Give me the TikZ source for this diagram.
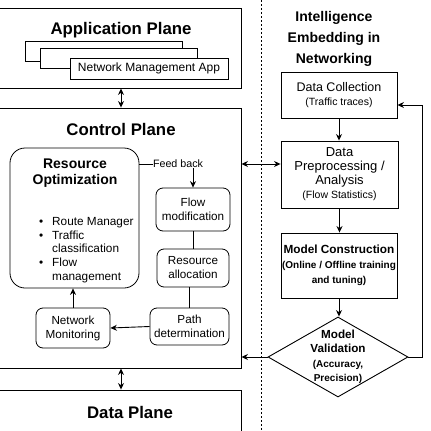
\documentclass[tikz,border=0pt]{standalone}
\usepackage{fontspec}
\setmainfont{Liberation Sans}
\usetikzlibrary{arrows.meta,shapes.geometric}

\tikzset{
  plane/.style={draw, line width=0.9pt, inner sep=0pt},
  ptitle/.style={font=\bfseries\fontsize{16.8}{20}\selectfont},
  appbox/.style={draw, fill=white, line width=0.8pt, inner sep=0pt},
  rbox/.style={draw, rounded corners=7pt, line width=0.8pt, inner sep=0pt, align=center,
    font=\fontsize{11.7}{14}\selectfont},
  sbox/.style={draw, line width=0.9pt, inner sep=0pt, align=center},
  arr/.style={-{Stealth[length=6.5pt,width=6pt]}, line width=0.9pt},
  dbl/.style={{Stealth[length=6.5pt,width=6pt]}-{Stealth[length=6.5pt,width=6pt]}, line width=0.9pt},
}
\newcommand{\bul}{\makebox[13pt][l]{\textbullet}}
\newcommand{\nobul}{\hspace*{13pt}}

\begin{document}
\begin{tikzpicture}[x=1pt,y=-1pt]
  \useasboundingbox (0,0) rectangle (431,431);
  \fill[white] (0,0) rectangle (431,431);

  % planes
  \node[plane, minimum width=251, minimum height=80] (app) at (115.5,48) {};
  \node[plane, minimum width=251, minimum height=260] (ctrl) at (115.5,238) {};
  \node[plane, minimum width=251, minimum height=60] (data) at (115.5,420) {};
  \node[ptitle] (apptitle) at (121,30) {Application Plane};
  \node[ptitle] (ctrltitle) at (121,129) {Control Plane};
  \node[ptitle] (datatitle) at (130,412) {Data Plane};

  % stacked apps
  \node[appbox, minimum width=157, minimum height=20] (app1) at (103.5,51) {};
  \node[appbox, minimum width=157, minimum height=20] (app2) at (118.5,58) {};
  \node[appbox, minimum width=158, minimum height=21, font=\fontsize{12}{14}\selectfont] (app3) at (149,68.5) {Network Management App};

  \draw[dbl] (app.south -| apptitle) -- (ctrl.north -| apptitle);
  \draw[dbl] (ctrl.south -| apptitle) -- (data.north -| apptitle);

  % control plane blocks
  \node[draw, rounded corners=15pt, line width=0.8pt, minimum width=129, minimum height=140] (resopt) at (74.5,218) {};
  \node[font=\bfseries\fontsize{14}{16}\selectfont, align=center] (restitle) at (75,173) {Resource\\Optimization};
  \node[anchor=west, inner sep=0pt, align=left, font=\fontsize{11.8}{13.8}\selectfont] (reslist) at (39,250)
    {\bul Route Manager\\ \bul Traffic\\ \nobul classification\\ \bul Flow\\ \nobul management};

  \node[inner sep=0pt, font=\fontsize{10.7}{12}\selectfont] (fb) at (178,164) {Feed back};
  \node[rbox, minimum width=74, minimum height=43] (flowmod) at (193,209.5) {Flow\\modification};
  \node[rbox, minimum width=72, minimum height=38] (resalloc) at (193,268) {Resource\\allocation};
  \node[rbox, minimum width=79, minimum height=37] (pathdet) at (189.5,326.5) {Path\\determination};
  \node[rbox, minimum width=74, minimum height=40] (netmon) at (73,328) {Network\\Monitoring};

  \draw[line width=0.8pt] (resopt.east |- fb.west) -- (fb.west);
  \draw[arr] (fb.south -| flowmod.north) -- (flowmod.north);
  \draw[line width=0.8pt] (flowmod.south) -- (flowmod.south |- resalloc.north);
  \draw[line width=0.8pt] (resalloc.south -| pathdet.north) -- (pathdet.north);
  \draw[arr] (pathdet.west) -- (netmon.east);
  \draw[arr] (netmon.north) -- (netmon.north |- resopt.south);

  % intelligence side
  \draw[line width=0.8pt, dash pattern=on 2pt off 2pt] (261,0) -- (261,431);
  \node[font=\bfseries\fontsize{14}{21}\selectfont, align=center] (ietitle) at (334,39) {Intelligence\\Embedding in\\Networking};

  \node[sbox, minimum width=116, minimum height=46, font=\fontsize{12.5}{15}\selectfont] (dc) at (339,95)
    {Data Collection\\[-1pt]{\fontsize{10.5}{12}\selectfont (Traffic traces)}};
  \node[sbox, minimum width=117, minimum height=67, font=\fontsize{13}{14}\selectfont] (pp) at (339.5,174.5)
    {Data\\Preprocessing /\\Analysis\\{\fontsize{10.5}{12}\selectfont (Flow Statistics)}};
  \node[sbox, minimum width=116, minimum height=65, font=\bfseries\fontsize{10}{15}\selectfont] (mc) at (339,265.5)
    {{\fontsize{11.8}{15}\selectfont Model Construction}\\(Online / Offline training\\and tuning)};
  \node[diamond, draw, line width=0.9pt, minimum width=140, minimum height=80, inner sep=0pt] (mv) at (338,357) {};
  \node[font=\bfseries\fontsize{10}{14.5}\selectfont, align=center] (mvtext) at (mv)
    {{\fontsize{11.7}{14}\selectfont Model}\\{\fontsize{11.7}{14}\selectfont Validation}\\(Accuracy,\\Precision)};

  \coordinate (rt) at (422,0);
  \draw[arr] (dc.south) -- (dc.south |- pp.north);
  \draw[arr] (pp.south) -- (pp.south |- mc.north);
  \draw[arr] (mc.south) -- (mc.south |- mv.north);
  \draw[arr] (mv.west) -- (mv.west -| ctrl.east);
  \draw[arr] (mv.east) -- (mv.east -| rt) |- ([yshift=-10pt]dc.east);
  \draw[dbl] ([yshift=10.5pt]pp.west) -- ([yshift=10.5pt]pp.west -| ctrl.east);
\end{tikzpicture}
\end{document}
